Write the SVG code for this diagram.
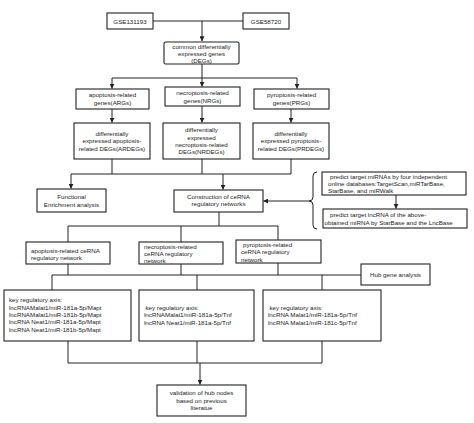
<svg xmlns="http://www.w3.org/2000/svg" width="474" height="423" viewBox="0 0 474 423">
<style>
.b{fill:#fff;stroke:#222;stroke-width:1.1}
.c{fill:none;stroke:#222;stroke-width:1}
text{font-family:"Liberation Sans",Arial,sans-serif;font-size:6.2px;fill:#222}
.m{text-anchor:middle}
</style>
<defs>
<marker id="a" viewBox="0 0 8 8" refX="7.5" refY="4" markerWidth="5" markerHeight="5" orient="auto" markerUnits="userSpaceOnUse">
<path d="M0,0 L8,4 L0,8 z" fill="#222"/>
</marker>
</defs>
<rect width="474" height="423" fill="#fff"/>
<g id="connectors" class="c">
<path d="M153,21 H243"/>
<path d="M202,21 V41" marker-end="url(#a)"/>
<path d="M202,64 V78 M112,78 H297"/>
<path d="M112,78 V88.5" marker-end="url(#a)"/>
<path d="M202,78 V86.5" marker-end="url(#a)"/>
<path d="M297,78 V88.5" marker-end="url(#a)"/>
<path d="M112,109 V122.5" marker-end="url(#a)"/>
<path d="M202,106 V122.5" marker-end="url(#a)"/>
<path d="M291,109 V122.5" marker-end="url(#a)"/>
<path d="M112,159 V174 M202,159 V174 M291,159 V174 M71,174 H291"/>
<path d="M71,174 V188.5" marker-end="url(#a)"/>
<path d="M223,174 V189.5" marker-end="url(#a)"/>
<path d="M309,201 H263.5" marker-end="url(#a)"/>
<path d="M317,172 Q313,172 313,176 V197 Q313,201 309,201 Q313,201 313,205 V225 Q313,229 317,229"/>
<path d="M396,195 V208.5" marker-end="url(#a)"/>
<path d="M219,212 V226 M68,226 H278 M68,226 V242 M181,226 V242 M278,226 V240"/>
<path d="M68,264 V275 M181,264 V275 M278,263 V275 M52,275 H361 M52,275 V290 M197,275 V290 M322,275 V290"/>
<path d="M68,341 V363 M197,341 V363 M322,341 V363 M68,363 H322"/>
<path d="M200,363 V384.5" marker-end="url(#a)"/>
</g>
<g id="gse131193"><rect class="b" x="107" y="13" width="46" height="16"/><text class="m" x="130" y="23.5">GSE131193</text></g>
<g id="gse58720"><rect class="b" x="243" y="13" width="46" height="16"/><text class="m" x="266" y="23.5">GSE58720</text></g>
<g id="degs"><rect class="b" x="164" y="42" width="75" height="22" rx="1.5"/><text class="m" x="201.5" y="49">common differentially</text><text class="m" x="201.5" y="56">expressed genes</text><text class="m" x="201.5" y="63">(DEGs)</text></g>
<g id="args"><rect class="b" x="76" y="89" width="73" height="20"/><text class="m" x="112.5" y="97">apoptosis-related</text><text class="m" x="112.5" y="104.5">genes(ARGs)</text></g>
<g id="nrgs"><rect class="b" x="165" y="87" width="75" height="19"/><text class="m" x="202.5" y="95">necroptosis-related</text><text class="m" x="202.5" y="102.5">genes(NRGs)</text></g>
<g id="prgs"><rect class="b" x="254" y="89" width="75" height="20"/><text class="m" x="291.5" y="97">pyroptosis-related</text><text class="m" x="291.5" y="104.5">genes(PRGs)</text></g>
<g id="ardegs"><rect class="b" x="74" y="123" width="76" height="36"/><text class="m" x="112" y="135.5">differentially</text><text class="m" x="112" y="143">expressed apoptosis-</text><text class="m" x="112" y="151">related DEGs(ARDEGs)</text></g>
<g id="nrdegs"><rect class="b" x="163" y="123" width="77" height="36"/><text class="m" x="201.5" y="132">differentially</text><text class="m" x="201.5" y="139.5">expressed</text><text class="m" x="201.5" y="146.5">necroptosis-related</text><text class="m" x="201.5" y="153.5">DEGs(NRDEGs)</text></g>
<g id="prdegs"><rect class="b" x="253" y="123" width="76" height="36"/><text class="m" x="291" y="135.5">differentially</text><text class="m" x="291" y="143">expressed pyroptosis-</text><text class="m" x="291" y="151">related DEGs(PRDEGs)</text></g>
<g id="functional"><rect class="b" x="37" y="189" width="69" height="23"/><text class="m" x="71.5" y="199">Functional</text><text class="m" x="71.5" y="206.5">Enrichment analysis</text></g>
<g id="construction"><rect class="b" x="174" y="190" width="89" height="22"/><text class="m" x="218.5" y="199">Construction of ceRNA</text><text class="m" x="218.5" y="206">regulatory networks</text></g>
<g id="predict-mirna"><rect class="b" x="322" y="172" width="144" height="23"/><text x="330" y="178.5">predict target miRNAs by four independent</text><text x="328" y="185.5">online databases:TargetScan,miRTarBase,</text><text x="328" y="192.5">StarBase, and miRWalk</text></g>
<g id="predict-lncrna"><rect class="b" x="323" y="209" width="144" height="19"/><text x="330" y="217">predict target lncRNA of the above-</text><text x="324.5" y="224.5">obtained miRNA by StarBase and the LncBase</text></g>
<g id="apoptosis-cerna"><rect class="b" x="26" y="242" width="84" height="22"/><text x="31" y="252.5">apoptosis-related ceRNA</text><text x="31" y="259.5">regulatory network</text></g>
<g id="necroptosis-cerna"><rect class="b" x="139" y="242" width="84" height="22"/><text x="144" y="248.5">necroptosis-related</text><text x="144" y="255.5">ceRNA regulatory</text><text x="144" y="263">network</text></g>
<g id="pyroptosis-cerna"><rect class="b" x="236" y="240" width="85" height="23"/><text x="243" y="246.5">pyroptosis-related</text><text x="241" y="254">ceRNA regulatory</text><text x="241" y="261.5">network</text></g>
<g id="hub"><rect class="b" x="361" y="264" width="69" height="21"/><text class="m" x="395.5" y="277">Hub gene analysis</text></g>
<g id="axis-apoptosis"><rect class="b" x="4" y="290" width="127" height="51"/><text x="9" y="302">key regulatory axis:</text><text x="9" y="309.5">lncRNAMalat1/miR-181a-5p/Mapt</text><text x="9" y="316.5">lncRNAMalat1/miR-181b-5p/Mapt</text><text x="9" y="324">lncRNA Neat1/miR-181a-5p/Mapt</text><text x="9" y="331.5">lncRNA Neat1/miR-181b-5p/Mapt</text></g>
<g id="axis-necroptosis"><rect class="b" x="139" y="290" width="115" height="51"/><text x="145.5" y="309.5">key regulatory axis:</text><text x="144" y="317">lncRNAMalat1/miR-181a-5p/Tnf</text><text x="144" y="324.5">lncRNA Neat1/miR-181a-5p/Tnf</text></g>
<g id="axis-pyroptosis"><rect class="b" x="263" y="290" width="118" height="51"/><text x="269.5" y="309.5">key regulatory axis:</text><text x="268" y="317">lncRNA Malat1/miR-181a-5p/Tnf</text><text x="268" y="324.5">lncRNA Malat1/miR-181c-5p/Tnf</text></g>
<g id="validation"><rect class="b" x="157" y="385" width="89" height="31"/><text class="m" x="201.5" y="395">validation of hub nodes</text><text class="m" x="201.5" y="402.5">based on previous</text><text class="m" x="201.5" y="410">literatue</text></g>
</svg>
